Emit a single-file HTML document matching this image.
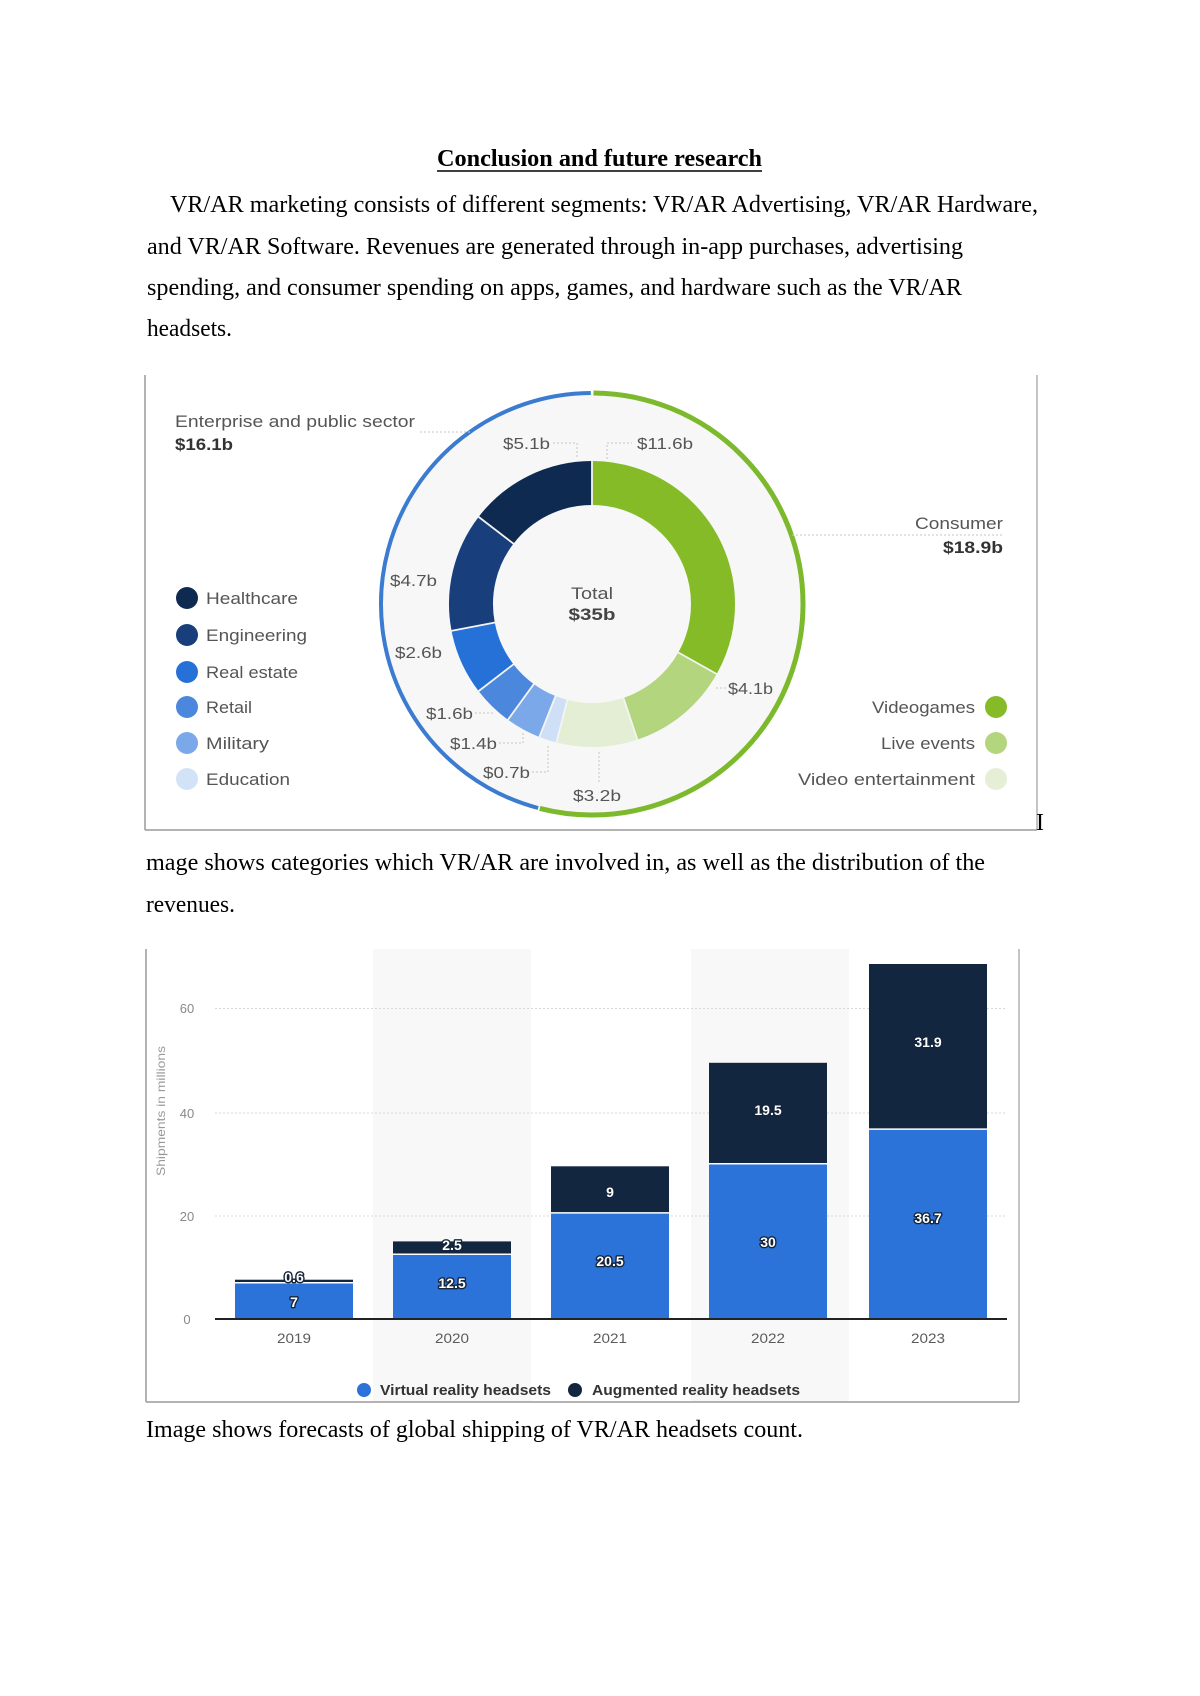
<!DOCTYPE html>
<html>
<head>
<meta charset="utf-8">
<style>
html,body{margin:0;padding:0;background:#fff;}
svg{display:block;}
.serif{font-family:"Liberation Serif","DejaVu Serif",serif;fill:#000;font-size:24px;}
.sans{font-family:"Liberation Sans","DejaVu Sans",sans-serif;}
.lbl{font-size:16px;fill:#555;}
.leg{font-size:17px;fill:#555;}
.bl{font-family:"Liberation Sans","DejaVu Sans",sans-serif;font-size:14px;font-weight:bold;fill:#fff;stroke:#14243a;stroke-width:2.8px;paint-order:stroke;stroke-linejoin:round;}
.lead{stroke:#c4c4c4;stroke-width:1;stroke-dasharray:2,2;fill:none;}
</style>
</head>
<body>
<svg width="1200" height="1696" viewBox="0 0 1200 1696" xmlns="http://www.w3.org/2000/svg">
<rect x="0" y="0" width="1200" height="1696" fill="#fff"/>

<!-- Header text -->
<text class="serif" x="437" y="166" font-weight="bold" textLength="325" lengthAdjust="spacingAndGlyphs">Conclusion and future research</text>
<line x1="437" y1="171" x2="762" y2="171" stroke="#000" stroke-width="1.5"/>
<text class="serif" x="170" y="212" textLength="868" lengthAdjust="spacingAndGlyphs">VR/AR marketing consists of different segments: VR/AR Advertising, VR/AR Hardware,</text>
<text class="serif" x="147" y="254" textLength="816" lengthAdjust="spacingAndGlyphs">and VR/AR Software. Revenues are generated through in-app purchases, advertising</text>
<text class="serif" x="147" y="295" textLength="815" lengthAdjust="spacingAndGlyphs">spending, and consumer spending on apps, games, and hardware such as the VR/AR</text>
<text class="serif" x="147" y="336" textLength="85" lengthAdjust="spacingAndGlyphs">headsets.</text>

<!-- Donut chart box -->
<line x1="145" y1="375" x2="145" y2="830" stroke="#9a9a9a" stroke-width="1.5"/>
<line x1="1037" y1="375" x2="1037" y2="830" stroke="#b0b0b0" stroke-width="1.5"/>
<line x1="145" y1="830" x2="1037" y2="830" stroke="#9a9a9a" stroke-width="1.5"/>

<!-- background circle -->
<circle cx="592" cy="604" r="211" fill="#f7f7f7"/>

<!-- outer ring -->
<circle cx="592" cy="604" r="211" fill="none" stroke="#7db92c" stroke-width="5" stroke-dasharray="714 2000" transform="rotate(-89.6 592 604)"/>
<circle cx="592" cy="604" r="211" fill="none" stroke="#3b7bd0" stroke-width="4" stroke-dasharray="607 2000" transform="rotate(104.8 592 604)"/>

<!-- inner donut segments -->
<g fill="none" stroke-width="44">
<circle cx="592" cy="604" r="121" stroke="#84bb26" stroke-dasharray="251.98 1000" transform="rotate(-90 592 604)"/>
<circle cx="592" cy="604" r="121" stroke="#b3d57e" stroke-dasharray="89.06 1000" transform="rotate(29.31 592 604)"/>
<circle cx="592" cy="604" r="121" stroke="#e4eed5" stroke-dasharray="69.51 1000" transform="rotate(71.49 592 604)"/>
<circle cx="592" cy="604" r="121" stroke="#cfe0f6" stroke-dasharray="15.21 1000" transform="rotate(104.40 592 604)"/>
<circle cx="592" cy="604" r="121" stroke="#7aa8e9" stroke-dasharray="30.41 1000" transform="rotate(111.60 592 604)"/>
<circle cx="592" cy="604" r="121" stroke="#4a87dd" stroke-dasharray="34.76 1000" transform="rotate(126.00 592 604)"/>
<circle cx="592" cy="604" r="121" stroke="#2671d8" stroke-dasharray="56.48 1000" transform="rotate(142.46 592 604)"/>
<circle cx="592" cy="604" r="121" stroke="#183f7c" stroke-dasharray="102.09 1000" transform="rotate(169.20 592 604)"/>
<circle cx="592" cy="604" r="121" stroke="#0f2a51" stroke-dasharray="110.78 1000" transform="rotate(217.54 592 604)"/>
</g>
<g stroke="#f4f4f4" stroke-width="1.8">
<line x1="592" y1="506" x2="592" y2="460" transform="rotate(0 592 604)"/>
<line x1="592" y1="506" x2="592" y2="460" transform="rotate(119.31 592 604)"/>
<line x1="592" y1="506" x2="592" y2="460" transform="rotate(161.49 592 604)"/>
<line x1="592" y1="506" x2="592" y2="460" transform="rotate(194.40 592 604)"/>
<line x1="592" y1="506" x2="592" y2="460" transform="rotate(201.60 592 604)"/>
<line x1="592" y1="506" x2="592" y2="460" transform="rotate(216.00 592 604)"/>
<line x1="592" y1="506" x2="592" y2="460" transform="rotate(232.46 592 604)"/>
<line x1="592" y1="506" x2="592" y2="460" transform="rotate(259.20 592 604)"/>
<line x1="592" y1="506" x2="592" y2="460" transform="rotate(307.54 592 604)"/>
</g>

<!-- leaders -->
<polyline class="lead" points="420,432 470,432"/>
<polyline class="lead" points="792,535 1003,535"/>
<polyline class="lead" points="553,443 577,443 577,459"/>
<polyline class="lead" points="607,459 607,443 632,443"/>
<polyline class="lead" points="475,713 493,713"/>
<polyline class="lead" points="499,743 523,743 523,732"/>
<polyline class="lead" points="532,772 548,772 548,745"/>
<polyline class="lead" points="599,752 599,782"/>
<polyline class="lead" points="716,688 726,688"/>

<!-- donut labels -->
<g class="sans">
<text x="175" y="427" font-size="17" fill="#555" textLength="240" lengthAdjust="spacingAndGlyphs">Enterprise and public sector</text>
<text x="175" y="450" font-size="17" font-weight="bold" fill="#333" textLength="58" lengthAdjust="spacingAndGlyphs">$16.1b</text>
<text x="1003" y="529" font-size="17" fill="#555" text-anchor="end" textLength="88" lengthAdjust="spacingAndGlyphs">Consumer</text>
<text x="1003" y="553" font-size="17" font-weight="bold" fill="#333" text-anchor="end" textLength="60" lengthAdjust="spacingAndGlyphs">$18.9b</text>

<text class="lbl" x="503" y="449" textLength="47" lengthAdjust="spacingAndGlyphs">$5.1b</text>
<text class="lbl" x="637" y="449" textLength="56" lengthAdjust="spacingAndGlyphs">$11.6b</text>
<text class="lbl" x="390" y="586" textLength="47" lengthAdjust="spacingAndGlyphs">$4.7b</text>
<text class="lbl" x="395" y="658" textLength="47" lengthAdjust="spacingAndGlyphs">$2.6b</text>
<text class="lbl" x="426" y="719" textLength="47" lengthAdjust="spacingAndGlyphs">$1.6b</text>
<text class="lbl" x="450" y="749" textLength="47" lengthAdjust="spacingAndGlyphs">$1.4b</text>
<text class="lbl" x="483" y="778" textLength="47" lengthAdjust="spacingAndGlyphs">$0.7b</text>
<text class="lbl" x="573" y="801" textLength="48" lengthAdjust="spacingAndGlyphs">$3.2b</text>
<text class="lbl" x="728" y="694" textLength="45" lengthAdjust="spacingAndGlyphs">$4.1b</text>

<text x="592" y="599" font-size="17" fill="#555" text-anchor="middle" textLength="42" lengthAdjust="spacingAndGlyphs">Total</text>
<text x="592" y="620" font-size="17" font-weight="bold" fill="#444" text-anchor="middle" textLength="47" lengthAdjust="spacingAndGlyphs">$35b</text>

<!-- left legend -->
<circle cx="187" cy="598" r="11" fill="#0f2a51"/>
<circle cx="187" cy="635" r="11" fill="#183f7c"/>
<circle cx="187" cy="672" r="11" fill="#2671d8"/>
<circle cx="187" cy="707" r="11" fill="#4a87dd"/>
<circle cx="187" cy="743" r="11" fill="#7aa8e9"/>
<circle cx="187" cy="779" r="11" fill="#d3e3f7"/>
<text class="leg" x="206" y="604" textLength="92" lengthAdjust="spacingAndGlyphs">Healthcare</text>
<text class="leg" x="206" y="641" textLength="101" lengthAdjust="spacingAndGlyphs">Engineering</text>
<text class="leg" x="206" y="678" textLength="92" lengthAdjust="spacingAndGlyphs">Real estate</text>
<text class="leg" x="206" y="713" textLength="46" lengthAdjust="spacingAndGlyphs">Retail</text>
<text class="leg" x="206" y="749" textLength="63" lengthAdjust="spacingAndGlyphs">Military</text>
<text class="leg" x="206" y="785" textLength="84" lengthAdjust="spacingAndGlyphs">Education</text>

<!-- right legend -->
<circle cx="996" cy="707" r="11" fill="#84bb26"/>
<circle cx="996" cy="743" r="11" fill="#b3d57e"/>
<circle cx="996" cy="779" r="11" fill="#e4efd6"/>
<text class="leg" x="975" y="713" text-anchor="end" textLength="103" lengthAdjust="spacingAndGlyphs">Videogames</text>
<text class="leg" x="975" y="749" text-anchor="end" textLength="94" lengthAdjust="spacingAndGlyphs">Live events</text>
<text class="leg" x="975" y="785" text-anchor="end" textLength="177" lengthAdjust="spacingAndGlyphs">Video entertainment</text>
</g>

<!-- stray I -->
<text class="serif" x="1036" y="830">I</text>

<!-- middle text -->
<text class="serif" x="146" y="870" textLength="839" lengthAdjust="spacingAndGlyphs">mage shows categories which VR/AR are involved in, as well as the distribution of the</text>
<text class="serif" x="146" y="912" textLength="89" lengthAdjust="spacingAndGlyphs">revenues.</text>

<!-- Bar chart box -->
<rect x="373" y="949" width="158" height="452" fill="#f8f8f8"/>
<rect x="691" y="949" width="158" height="452" fill="#f8f8f8"/>
<line x1="146" y1="949" x2="146" y2="1402" stroke="#9a9a9a" stroke-width="1.5"/>
<line x1="1019" y1="949" x2="1019" y2="1402" stroke="#b0b0b0" stroke-width="1.5"/>
<line x1="146" y1="1402" x2="1019" y2="1402" stroke="#9a9a9a" stroke-width="1.5"/>

<!-- gridlines -->
<g stroke="#d8d8d8" stroke-width="1" stroke-dasharray="2,2">
<line x1="215" y1="1008.5" x2="1007" y2="1008.5"/>
<line x1="215" y1="1113" x2="1007" y2="1113"/>
<line x1="215" y1="1216" x2="1007" y2="1216"/>
</g>

<!-- y labels -->
<g class="sans" font-size="13" fill="#888" text-anchor="middle">
<text x="187" y="1013">60</text>
<text x="187" y="1118">40</text>
<text x="187" y="1221">20</text>
<text x="187" y="1324">0</text>
</g>
<text class="sans" x="0" y="0" font-size="12" fill="#999" text-anchor="middle" transform="translate(165 1111) rotate(-90)" textLength="130" lengthAdjust="spacingAndGlyphs">Shipments in millions</text>

<!-- bars -->
<g>
<rect x="235" y="1282.8" width="118" height="36.2" fill="#2b73d9"/>
<rect x="235" y="1279.7" width="118" height="3.1" fill="#13263f"/>
<rect x="393" y="1254.3" width="118" height="64.7" fill="#2b73d9"/>
<rect x="393" y="1241.4" width="118" height="12.9" fill="#13263f"/>
<rect x="551" y="1212.9" width="118" height="106.1" fill="#2b73d9"/>
<rect x="551" y="1166.3" width="118" height="46.6" fill="#13263f"/>
<rect x="709" y="1163.7" width="118" height="155.3" fill="#2b73d9"/>
<rect x="709" y="1062.8" width="118" height="100.9" fill="#13263f"/>
<rect x="869" y="1129.1" width="118" height="189.9" fill="#2b73d9"/>
<rect x="869" y="964.0" width="118" height="165.1" fill="#13263f"/>
</g>
<g stroke="#ffffff" stroke-width="1.5">
<line x1="235" y1="1282.8" x2="353" y2="1282.8"/>
<line x1="393" y1="1254.3" x2="511" y2="1254.3"/>
<line x1="551" y1="1212.9" x2="669" y2="1212.9"/>
<line x1="709" y1="1163.7" x2="827" y2="1163.7"/>
<line x1="869" y1="1129.1" x2="987" y2="1129.1"/>
</g>
<line x1="215" y1="1319" x2="1007" y2="1319" stroke="#222" stroke-width="2"/>

<!-- bar labels -->
<g text-anchor="middle">
<text class="bl" x="294" y="1307">7</text>
<text class="bl" x="294" y="1282">0.6</text>
<text class="bl" x="452" y="1288">12.5</text>
<text class="bl" x="452" y="1250">2.5</text>
<text class="bl" x="610" y="1266">20.5</text>
<text class="bl" x="610" y="1197">9</text>
<text class="bl" x="768" y="1247">30</text>
<text class="bl" x="768" y="1115">19.5</text>
<text class="bl" x="928" y="1223">36.7</text>
<text class="bl" x="928" y="1047">31.9</text>
</g>

<!-- x labels -->
<g class="sans" font-size="14" fill="#5c5c5c" text-anchor="middle">
<text x="294" y="1343" textLength="34" lengthAdjust="spacingAndGlyphs">2019</text>
<text x="452" y="1343" textLength="34" lengthAdjust="spacingAndGlyphs">2020</text>
<text x="610" y="1343" textLength="34" lengthAdjust="spacingAndGlyphs">2021</text>
<text x="768" y="1343" textLength="34" lengthAdjust="spacingAndGlyphs">2022</text>
<text x="928" y="1343" textLength="34" lengthAdjust="spacingAndGlyphs">2023</text>
</g>

<!-- bar legend -->
<circle cx="364" cy="1390" r="7" fill="#2b73d9"/>
<text class="sans" x="380" y="1395" font-size="15" font-weight="bold" fill="#333" textLength="171" lengthAdjust="spacingAndGlyphs">Virtual reality headsets</text>
<circle cx="575" cy="1390" r="7" fill="#13263f"/>
<text class="sans" x="592" y="1395" font-size="15" font-weight="bold" fill="#333" textLength="208" lengthAdjust="spacingAndGlyphs">Augmented reality headsets</text>

<!-- bottom caption -->
<text class="serif" x="146" y="1437" textLength="657" lengthAdjust="spacingAndGlyphs">Image shows forecasts of global shipping of VR/AR headsets count.</text>
</svg>
</body>
</html>
